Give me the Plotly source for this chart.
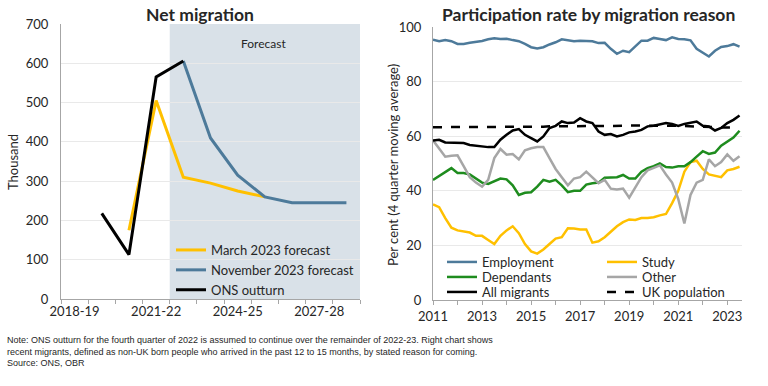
import plotly.graph_objects as go

# ---------------- Left chart data ----------------
fin_years = ["2018-19", "2019-20", "2020-21", "2021-22", "2022-23", "2023-24",
             "2024-25", "2025-26", "2026-27", "2027-28", "2028-29"]
march_2023 = [None, None, 175, 505, 310, 295, 275, 260, None, None, None]
nov_2023 = [None, None, None, None, 606, 410, 315, 260, 245, 245, 245]
ons_outturn = [None, 218, 113, 565, 606, None, None, None, None, None, None]
forecast_start = "2022-23"
left_tick_labels = ["2018-19", "2021-22", "2024-25", "2027-28"]

# ---------------- Right chart data (quarterly, from 2011) ----------------
n_q = 51
quarters = [2011 + q * 0.25 for q in range(n_q)]
employment = [95.3, 94.8, 95.2, 94.8, 93.8, 93.8, 94.2, 94.5, 94.9, 95.5, 95.9, 95.6, 95.7,
              95.2, 94.8, 93.8, 92.6, 92.1, 92.6, 93.6, 94.4, 95.5, 95.1, 94.8, 95.0, 95.0,
              94.8, 94.1, 94.2, 92.0, 90.2, 91.3, 90.8, 92.9, 95.0, 95.0, 96.0, 95.6, 95.2,
              96.2, 95.6, 95.5, 95.1, 92.0, 90.5, 89.2, 91.3, 92.7, 93.0, 93.7, 92.8]
study = [35.0, 34.0, 30.0, 26.5, 25.5, 25.0, 24.7, 23.5, 23.5, 22.0, 20.5, 23.5, 25.5,
         27.0, 24.5, 20.5, 17.8, 17.0, 18.5, 20.5, 22.5, 23.0, 26.3, 26.2, 25.8, 25.8,
         21.0, 21.5, 23.0, 25.0, 27.0, 28.5, 29.5, 29.3, 30.0, 30.0, 30.3, 31.0, 31.5,
         35.5, 40.0, 47.0, 50.5, 51.0, 48.0, 46.0, 45.5, 45.0, 47.5, 48.0, 48.8]
dependants = [44.0, 45.5, 47.0, 48.3, 46.5, 46.5, 46.0, 44.5, 43.0, 42.5, 43.5, 44.5, 44.2,
              42.0, 38.5, 39.3, 39.5, 41.5, 44.0, 43.3, 44.0, 42.0, 39.5, 40.0, 40.0, 42.3,
              42.8, 43.0, 44.8, 45.0, 45.0, 45.8, 44.5, 44.5, 47.0, 48.3, 49.0, 50.0, 48.7,
              48.5, 49.0, 49.0, 50.5, 52.5, 54.5, 53.5, 54.0, 56.5, 58.0, 59.5, 62.0]
other = [58.5, 55.5, 52.5, 52.8, 53.0, 49.0, 45.0, 43.0, 41.5, 44.0, 52.0, 55.3, 53.2,
         53.5, 51.5, 54.8, 55.6, 56.0, 56.0, 52.0, 48.0, 45.0, 42.0, 44.5, 45.0, 47.0,
         45.0, 42.8, 44.0, 40.8, 40.5, 40.8, 37.5, 41.0, 45.0, 47.5, 48.5, 49.3, 46.0,
         43.0, 37.0, 28.0, 38.5, 43.0, 44.0, 51.5, 49.0, 50.5, 53.3, 51.0, 52.7]
all_migrants = [58.4, 58.7, 57.7, 57.7, 57.5, 57.5, 56.8, 56.5, 56.2, 56.0, 56.0, 58.7, 60.5,
                62.1, 62.6, 60.5, 59.3, 58.1, 59.9, 63.0, 63.8, 65.4, 64.8, 65.0, 66.6, 65.4,
                64.8, 61.7, 60.5, 60.8, 59.9, 60.5, 61.4, 61.7, 62.3, 63.6, 63.8, 64.2, 64.8,
                64.5, 63.8, 64.5, 65.0, 65.4, 63.8, 63.6, 62.1, 63.0, 64.8, 66.0, 67.6]
uk_population = [63.3, 63.3, 63.3, 63.3, 63.3, 63.3, 63.3, 63.3, 63.4, 63.4, 63.4, 63.4, 63.4,
                 63.5, 63.5, 63.5, 63.5, 63.5, 63.5, 63.6, 63.6, 63.6, 63.6, 63.7, 63.7, 63.7,
                 63.7, 63.7, 63.8, 63.8, 63.8, 63.8, 63.9, 63.9, 63.9, 63.9, 64.0, 64.0, 64.0,
                 63.9, 63.8, 63.7, 63.6, 63.5, 63.3, 63.2, 63.2, 63.2, 63.2, 63.2, None]

BLUE = "#4D7A9A"
GOLD = "#FFC000"
GREEN = "#1E8C1E"
GREY = "#A6A6A6"
BLACK = "#000000"
FONT = "Lato"
TXT = "#262626"
W, H = 768, 386

x_idx = list(range(len(fin_years)))

fig = go.Figure()

# Left chart
fig.add_trace(go.Scatter(x=x_idx, y=march_2023, mode="lines", name="March 2023 forecast",
                         line=dict(color=GOLD, width=3), xaxis="x", yaxis="y", legend="legend"))
fig.add_trace(go.Scatter(x=x_idx, y=nov_2023, mode="lines", name="November 2023 forecast",
                         line=dict(color=BLUE, width=3), xaxis="x", yaxis="y", legend="legend"))
fig.add_trace(go.Scatter(x=x_idx, y=ons_outturn, mode="lines", name="ONS outturn",
                         line=dict(color=BLACK, width=3), xaxis="x", yaxis="y", legend="legend"))

# Right chart: legend rows (two columns per row)
right_series = [
    ("Employment", employment, BLUE, "solid", "legend2"),
    ("Study", study, GOLD, "solid", "legend2"),
    ("Dependants", dependants, GREEN, "solid", "legend3"),
    ("Other", other, GREY, "solid", "legend3"),
    ("All migrants", all_migrants, BLACK, "solid", "legend4"),
    ("UK population", uk_population, BLACK, "dash", "legend4"),
]
for name, vals, col, dash, leg in right_series:
    fig.add_trace(go.Scatter(x=quarters, y=vals, mode="lines", name=name,
                             line=dict(color=col, width=2.5, dash=dash),
                             xaxis="x2", yaxis="y2", legend=leg))

fs = fin_years.index(forecast_start)
fig.add_shape(type="rect", xref="x", yref="y domain", x0=fs - 0.5, x1=len(fin_years) - 0.5,
              y0=0, y1=1, fillcolor="#D9E1E8", line=dict(width=0), layer="below")

axis_common = dict(showline=True, linecolor="#A6A6A6", linewidth=1, automargin=False,
                   tickfont=dict(family=FONT, size=13, color=TXT), zeroline=False)

leg_font = dict(family=FONT, size=13, color=TXT)

def row_legend(y_px):
    return dict(x=442 / W, y=1 - y_px / H, xanchor="left", yanchor="middle",
                orientation="h", entrywidth=115, entrywidthmode="pixels",
                bgcolor="rgba(0,0,0,0)", font=leg_font, itemwidth=30)

fig.update_layout(
    template="none",
    width=W, height=H,
    margin=dict(l=0, r=0, t=0, b=0, autoexpand=False),
    paper_bgcolor="white", plot_bgcolor="white",
    font=dict(family=FONT, color=TXT),
    xaxis=dict(domain=[61 / W, 360 / W], range=[-0.5, len(fin_years) - 0.5],
               tickmode="array", tickvals=[fin_years.index(t) for t in left_tick_labels],
               ticktext=left_tick_labels, ticks="", showgrid=False,
               minor=dict(ticks="outside", tick0=-0.5, dtick=1, ticklen=4,
                          tickcolor="#A6A6A6", showgrid=False),
               anchor="y", **axis_common),
    yaxis=dict(domain=[1 - 299 / H, 1 - 24 / H], range=[0, 700], dtick=100,
               showgrid=True, gridcolor="#E9E9E9", ticks="", anchor="x",
               ticklabelstandoff=9, **axis_common),
    xaxis2=dict(domain=[433 / W, 742 / W], range=[2011, 2023.6], tick0=2011, dtick=2,
                ticks="outside", ticklen=4, tickcolor="#A6A6A6", showgrid=False,
                minor=dict(ticks="outside", dtick=1, ticklen=4, tickcolor="#A6A6A6", showgrid=False),
                anchor="y2", **axis_common),
    yaxis2=dict(domain=[1 - 300 / H, 1 - 27 / H], range=[0, 100], dtick=20,
                showgrid=True, gridcolor="#E9E9E9", ticks="", anchor="x2",
                ticklabelstandoff=8, **axis_common),
    legend=dict(x=171 / W, y=1 - 235 / H, xanchor="left", yanchor="top",
                bgcolor="rgba(0,0,0,0)", font=leg_font, tracegroupgap=0, itemwidth=30),
    legend2=row_legend(262),
    legend3=row_legend(277),
    legend4=row_legend(292),
    showlegend=True,
)

annotations = [
    dict(text="<b>Net migration</b>", x=200 / W, y=1 - 14 / H,
         font=dict(family=FONT, size=17.5, color=TXT), xanchor="center", yanchor="middle"),
    dict(text="<b>Participation rate by migration reason</b>", x=588 / W, y=1 - 14 / H,
         font=dict(family=FONT, size=17.5, color=TXT), xanchor="center", yanchor="middle"),
    dict(text="Forecast", x=263 / W, y=1 - 44 / H,
         font=dict(family=FONT, size=12, color=TXT), xanchor="center", yanchor="middle"),
    dict(text="Thousand", x=13 / W, y=1 - 162 / H, textangle=-90,
         font=dict(family=FONT, size=13, color=TXT), xanchor="center", yanchor="middle"),
    dict(text="Per cent (4 quarter moving average)", x=393 / W, y=1 - 165 / H, textangle=-90,
         font=dict(family=FONT, size=13, color=TXT), xanchor="center", yanchor="middle"),
    dict(text="Note: ONS outturn for the fourth quarter of 2022 is assumed to continue over the remainder of 2022-23. Right chart shows<br>"
              "recent migrants, defined as non-UK born people who arrived in the past 12 to 15 months, by stated reason for coming.<br>"
              "Source: ONS, OBR",
         x=5 / W, y=1 - 333 / H, align="left", xanchor="left", yanchor="top",
         font=dict(family="Liberation Sans", size=9, color=TXT)),
]
for a in annotations:
    a.update(xref="paper", yref="paper", showarrow=False)
fig.update_layout(annotations=annotations)

fig.write_html("out.html", config={"displayModeBar": False},
               post_script="document.body.style.margin='0px';")
